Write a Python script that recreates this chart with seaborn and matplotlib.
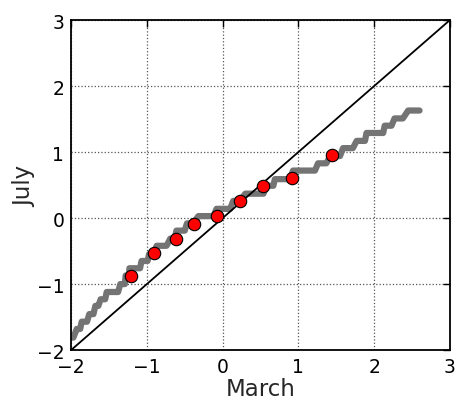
import numpy as np
import seaborn as sns
import matplotlib.pyplot as plt

# grey staircase: each step is a flat run (x_start -> x_end) at level y
step_x_start = [-2.00, -1.925, -1.86, -1.76, -1.68, -1.61, -1.53, -1.35, -1.28, -1.23,
                -1.07, -0.97, -0.87, -0.69, -0.61, -0.47, -0.32, -0.08, 0.14, 0.30,
                0.58, 0.69, 0.93, 1.26, 1.42, 1.59, 1.77, 1.90, 2.14, 2.27, 2.45]
step_x_end = [-1.97, -1.88, -1.79, -1.705, -1.64, -1.55, -1.38, -1.29, -1.235, -1.09,
              -0.99, -0.91, -0.74, -0.63, -0.50, -0.39, -0.12, 0.10, 0.23, 0.54,
              0.67, 0.89, 1.22, 1.37, 1.55, 1.72, 1.88, 2.12, 2.23, 2.38, 2.60]
step_y = [-1.81, -1.68, -1.57, -1.455, -1.33, -1.23, -1.12, -1.00, -0.87, -0.76,
          -0.65, -0.545, -0.42, -0.31, -0.19, -0.08, 0.03, 0.14, 0.26, 0.37,
          0.49, 0.59, 0.72, 0.83, 0.94, 1.06, 1.17, 1.29, 1.40, 1.51, 1.63]

# red quantile points
march_q = [-1.21, -0.905, -0.61, -0.377, -0.07, 0.23, 0.533, 0.915, 1.447]
july_q = [-0.88, -0.535, -0.31, -0.086, 0.03, 0.263, 0.485, 0.60, 0.95]

sns.set_style("white")
plt.rcParams['font.family'] = ['DejaVu Sans']

fig = plt.figure(figsize=(4.74, 4.14), dpi=100)
ax = fig.add_axes([0.150, 0.152, 0.799, 0.797])

# build the staircase polyline from the flats
sx, sy = [], []
for x0, x1, y in zip(step_x_start, step_x_end, step_y):
    sx += [x0, x1]
    sy += [y, y]
sns.lineplot(x=sx, y=sy, sort=False, color='#747474', lw=4.5, ax=ax, zorder=2)

lims = [-2, 3]
sns.lineplot(x=lims, y=lims, color='black', lw=1.3, ax=ax, zorder=3)

sns.scatterplot(x=march_q, y=july_q, color='red', edgecolor='black', linewidth=0.8,
                s=80, ax=ax, zorder=4)

ax.set_xlim(-2, 3)
ax.set_ylim(-2, 3)
ax.set_xticks(np.arange(-2, 4))
ax.set_yticks(np.arange(-2, 4))
ax.grid(True, color='#555555', linestyle=':', linewidth=0.9)
ax.set_axisbelow(True)
for s in ax.spines.values():
    s.set_color('black')
    s.set_linewidth(1.3)
ax.tick_params(direction='in', length=5, width=1, top=True, right=True,
               labelsize=13.5, pad=5, colors='black')
ax.set_xlabel('March', fontsize=16.5, labelpad=1)
ax.set_ylabel('July', fontsize=16.5, labelpad=0)

fig.savefig('out.png', dpi=100)
